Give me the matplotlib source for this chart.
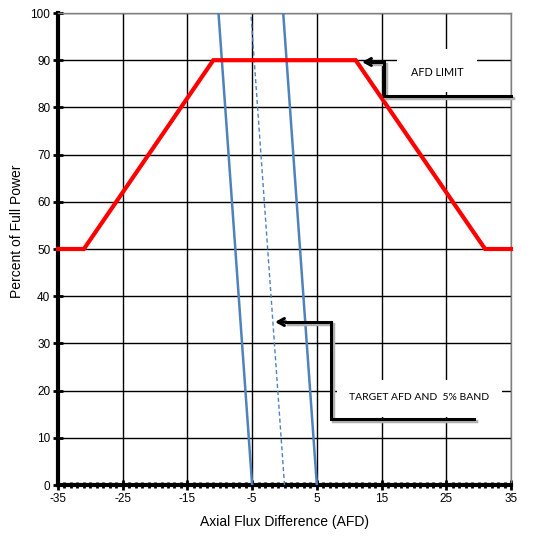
import matplotlib
matplotlib.use("Agg")
import matplotlib.pyplot as plt
import numpy as np

# Data
limit_afd = [-35, -31, -11, 11, 31, 35]
limit_power = [50, 50, 90, 90, 50, 50]
band_power = [0, 100]
band_low_afd = [-5, -10.2]
band_high_afd = [5, -0.2]
target_afd = [0, -5.2]
x_ticks = [-35, -25, -15, -5, 5, 15, 25, 35]
y_ticks = [0, 10, 20, 30, 40, 50, 60, 70, 80, 90, 100]

plt.rcParams['font.family'] = ['Liberation Sans', 'DejaVu Sans']
plt.rcParams['axes.unicode_minus'] = False

fig = plt.figure(figsize=(5.35, 5.39), dpi=100)
W, H = 535, 539
ax = fig.add_axes([58 / W, 1 - 485 / H, (511 - 58) / W, (485 - 13) / H])

ax.set_xlim(-35, 35)
ax.set_ylim(0, 100)
ax.set_xticks(x_ticks)
ax.set_yticks(y_ticks)
ax.set_xticks(np.arange(-35, 36, 1), minor=True)
ax.grid(True, which='major', color='black', linewidth=1.0, zorder=0)
ax.set_axisbelow(True)

for s in ['top', 'right']:
    ax.spines[s].set_color('#808080')
    ax.spines[s].set_linewidth(1.0)
for s in ['left', 'bottom']:
    ax.spines[s].set_color('black')
    ax.spines[s].set_linewidth(3.0)

ax.tick_params(axis='both', which='major', direction='inout', length=7, width=2,
               labelsize=8.5, colors='black', pad=2)
ax.tick_params(axis='x', which='minor', direction='inout', length=5, width=2)

ax.plot(band_low_afd, band_power, color='#4F81BD', linewidth=1.8, zorder=3)
ax.plot(band_high_afd, band_power, color='#4F81BD', linewidth=1.8, zorder=3)
ax.plot(target_afd, band_power, color='#4F81BD', linewidth=1.0, linestyle=(0, (3, 2)), zorder=3)
ax.plot(limit_afd, limit_power, color='#FF0000', linewidth=3, zorder=4, clip_on=False,
        solid_joinstyle='miter')

ax.set_xlabel('Axial Flux Difference (AFD)', fontsize=10)
ax.set_ylabel('Percent of Full Power', fontsize=10)
ax.xaxis.set_label_coords(0.5, -(522 - 485) / (485 - 13), transform=ax.transAxes)
ax.yaxis.set_label_coords(-(58 - 17) / (511 - 58), (485 - 231) / (485 - 13))
ax.xaxis.label.set_va('center')
ax.yaxis.label.set_va('center')

# helper: pixel -> data
def px(x, y):
    return (-35 + (x - 58) / (511 - 58) * 70, (485 - y) / (485 - 13) * 100)

# AFD LIMIT box
x0, y0 = px(397, 92)
x1, y1 = px(477, 49)
ax.add_patch(plt.Rectangle((x0, y0), x1 - x0, y1 - y0, facecolor='white',
                           edgecolor='none', zorder=2))
ax.text(*px(437, 72), 'AFD LIMIT', fontsize=7.8, ha='center', va='center',
        family=['Lato', 'DejaVu Sans'], zorder=5)

# TARGET box
x0, y0 = px(337, 417)
x1, y1 = px(502, 380)
ax.add_patch(plt.Rectangle((x0, y0), x1 - x0, y1 - y0, facecolor='white',
                           edgecolor='none', zorder=2))
ax.text(*px(419, 398), 'TARGET AFD AND  5% BAND', fontsize=7.5, ha='center', va='center',
        family=['Lato', 'DejaVu Sans'], zorder=5)

def connector(pts, head):
    xs, ys = zip(*[px(*p) for p in pts])
    sx, sy = zip(*[px(p[0] + 1.5, p[1] + 1.5) for p in pts])
    ax.plot(sx, sy, color='#B0B0B0', linewidth=2.5, zorder=4, clip_on=False,
            solid_joinstyle='miter')
    ax.plot(xs, ys, color='black', linewidth=2.2, zorder=5, clip_on=False,
            solid_joinstyle='miter')
    ax.annotate('', xy=px(*head), xytext=(xs[-1], ys[-1]),
                arrowprops=dict(arrowstyle='->,head_length=0.45,head_width=0.25',
                                color='black', lw=2.2, shrinkA=0, shrinkB=0), zorder=5)

connector([(511, 96), (384, 96), (384, 62), (372, 62)], (362, 62))
connector([(474, 419), (331, 419), (331, 322), (286, 322)], (275, 322))

fig.savefig('out.png', dpi=100)
